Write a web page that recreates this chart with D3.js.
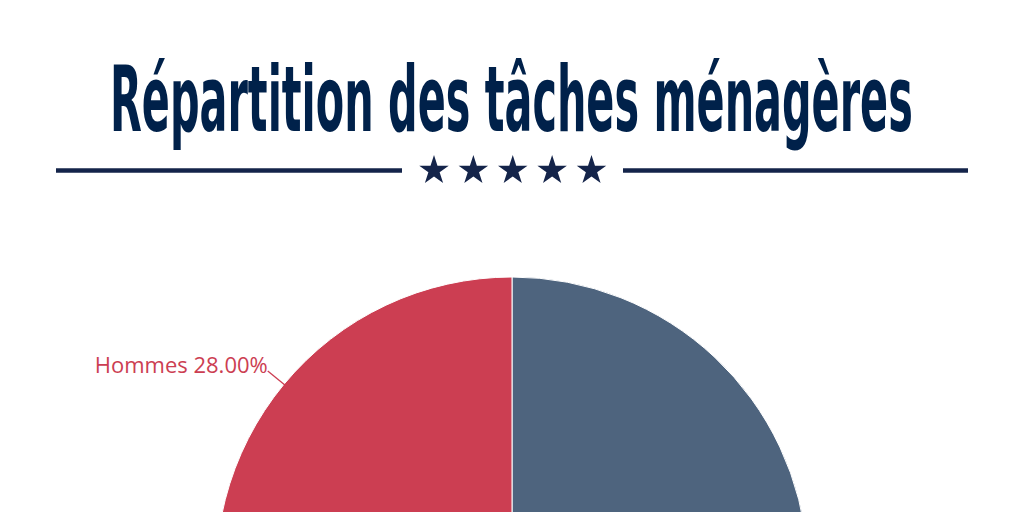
<!DOCTYPE html>
<html>
<head>
<meta charset="utf-8">
<script src="https://cdn.jsdelivr.net/npm/d3@7"></script>
<style>
  html, body { margin: 0; padding: 0; background: #ffffff; }
  svg { display: block; }
</style>
</head>
<body>
<svg id="chart" width="1024" height="512"></svg>
<script>
// ---- data ----
const categories = ["Femmes", "Hommes"];
const values = [72, 28];
const colors = ["#4e647e", "#cc3e52"];
const titleText = "Répartition des tâches ménagères";

// ---- layout ----
const W = 1024, H = 512;
const cx = 512, cy = 573, radius = 296;
const svg = d3.select("#chart");

// title (condensed to fit the reference width)
const title = svg.append("text")
  .attr("x", 0)
  .attr("y", 0)
  .attr("fill", "#00214a")
  .style("font-family", "'Liberation Sans Narrow', 'DejaVu Sans Condensed', 'Liberation Sans', sans-serif")
  .style("font-weight", "bold")
  .style("font-size", "91px")
  .text(titleText);
const tw = title.node().getComputedTextLength();
title.attr("transform", `translate(110,131) scale(${803 / tw},1)`);

// decorative rule with stars
const ruleColor = "#14244a";
svg.append("line").attr("x1", 56).attr("x2", 402).attr("y1", 170.5).attr("y2", 170.5)
  .attr("stroke", ruleColor).attr("stroke-width", 4.5);
svg.append("line").attr("x1", 623).attr("x2", 968).attr("y1", 170.5).attr("y2", 170.5)
  .attr("stroke", ruleColor).attr("stroke-width", 4.5);

function starPath(R) {
  const r = R * 0.382;
  const pts = [];
  for (let i = 0; i < 10; i++) {
    const a = -Math.PI / 2 + i * Math.PI / 5;
    const rr = i % 2 === 0 ? R : r;
    pts.push([rr * Math.cos(a), rr * Math.sin(a)]);
  }
  return "M" + pts.map(p => p.join(",")).join("L") + "Z";
}
const starX = d3.scalePoint().domain(d3.range(5)).range([434, 591.5]);
svg.append("g").selectAll("path").data(d3.range(5)).join("path")
  .attr("transform", d => `translate(${starX(d)},170.5)`)
  .attr("d", starPath(15.5))
  .attr("fill", ruleColor);

// pie
const pieData = d3.pie().sort(null).value(d => d.value)
  (categories.map((c, i) => ({ name: c, value: values[i], color: colors[i] })));
const total = d3.sum(values);
const arc = d3.arc().innerRadius(0).outerRadius(radius);

const g = svg.append("g").attr("transform", `translate(${cx},${cy})`);
g.selectAll("path.slice").data(pieData).join("path")
  .attr("class", "slice")
  .attr("d", arc)
  .attr("fill", d => d.data.color)
  .attr("stroke", "#ffffff")
  .attr("stroke-width", 1)
  .attr("stroke-linejoin", "round");

// labels with connectors (only those that fall inside the visible area)
const inner = d3.arc().innerRadius(radius - 2).outerRadius(radius - 2);
const outer = d3.arc().innerRadius(radius + 21).outerRadius(radius + 21);
const visible = pieData.filter(d => cy + outer.centroid(d)[1] < H - 20);
const lab = g.selectAll("g.lab").data(visible).join("g").attr("class", "lab");
lab.append("line")
  .attr("x1", d => inner.centroid(d)[0])
  .attr("y1", d => inner.centroid(d)[1])
  .attr("x2", d => outer.centroid(d)[0])
  .attr("y2", d => outer.centroid(d)[1])
  .attr("stroke", d => d.data.color)
  .attr("stroke-width", 1.3);
lab.append("text")
  .attr("x", d => { const p = outer.centroid(d); const mid = (d.startAngle + d.endAngle) / 2; return mid > Math.PI ? p[0] : p[0] + 1; })
  .attr("y", d => outer.centroid(d)[1] + 2)
  .attr("text-anchor", d => ((d.startAngle + d.endAngle) / 2 > Math.PI ? "end" : "start"))
  .attr("fill", d => d.data.color)
  .style("font-family", "'Open Sans', 'Noto Sans', sans-serif")
  .style("font-size", "22px")
  .text(d => `${d.data.name} ${(d.data.value / total * 100).toFixed(2)}%`);
</script>
</body>
</html>
